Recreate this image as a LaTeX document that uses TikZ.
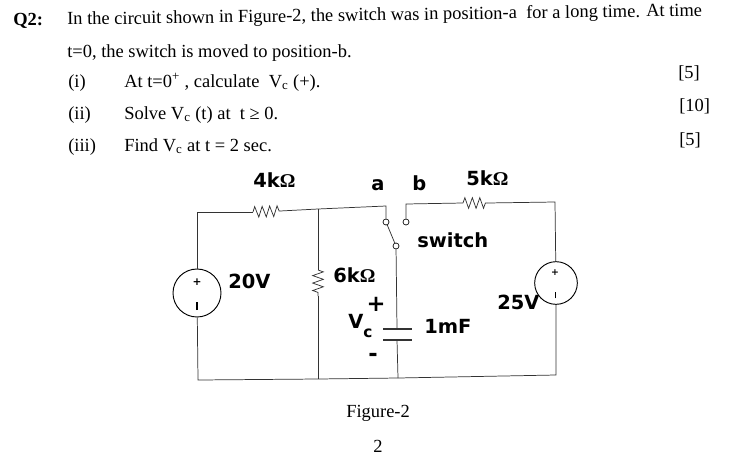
\documentclass[tikz,border=0pt]{standalone}
\usepackage{fontspec}
\setmainfont{Liberation Serif}
\newfontfamily\labelfont[BoldFont=DejaVu Sans Bold]{DejaVu Sans}
\usetikzlibrary{positioning, decorations.pathmorphing}
\tikzset{
    wire/.style={draw=black!80, line width=0.55pt},
    resistor/.style={wire, decorate, decoration={zigzag, segment length=5.6, amplitude=4}},
    terminal/.style={circle, draw, fill=white, line width=0.5pt, inner sep=0pt, minimum size=4.5pt},
    source/.style={circle, draw, line width=0.7pt, inner sep=0pt, minimum size=#1},
    question/.style={anchor=base west, inner sep=0pt, font=\fontsize{13.85pt}{16pt}\selectfont},
    value/.style={anchor=base west, inner sep=0pt, font=\labelfont\bfseries\fontsize{14.6pt}{16pt}\selectfont},
    sign/.style={inner sep=0pt, font=\labelfont\bfseries\fontsize{#1}{10pt}\selectfont}
}
\newcommand{\capv}{V\raisebox{-7pt}{\fontsize{11.5pt}{12pt}\selectfont c}}
\newcommand{\ohm}{{\rmfamily\bfseries Ω}}
\begin{document}
\begin{tikzpicture}[x=0.75pt, y=-0.75pt]
    \useasboundingbox[fill=white] (0,0) rectangle (755,467);

    % question text
    \node[question, font=\bfseries\fontsize{13.85pt}{16pt}\selectfont] (q) at (13,26) {Q2:};
    \node[question, rotate=0.8] (line1) at (67,25) {In the circuit shown in Figure-2, the switch was in position-a\ \ for a long time. At time};
    \node[question] (line2) at (67,57) {t=0, the switch is moved to position-b.};
    \node[question] (num1) at (68,87) {(i)};
    \node[question] (part1) at (124,87) {At t=0\textsuperscript{+} , calculate\ \ V\textsubscript{c} (+).};
    \node[question] (num2) at (68,119) {(ii)};
    \node[question] (part2) at (124,119) {Solve V\textsubscript{c} (t) at\ \ t ≥ 0.};
    \node[question] (num3) at (68,151) {(iii)};
    \node[question] (part3) at (124,151) {Find V\textsubscript{c} at t = 2 sec.};
    \node[question] (mark1) at (678,79) {[5]};
    \node[question] (mark2) at (679,111) {[10]};
    \node[question] (mark3) at (679,145) {[5]};

    % circuit
    \node[source=36pt] (src20) at (197,293) {};
    \node[sign=8pt] (plus20) at (197,282) {+};
    \node[sign=8pt] (minus20) at (197,306) {\rule{0.8pt}{6pt}};
    \node[source=32pt] (src25) at (556,283) {};
    \node[sign=7pt] (plus25) at (555,273) {+};
    \node[sign=7pt] (minus25) at (555,295) {\rule{0.7pt}{5pt}};
    \node[terminal] (terma) at (386,222) {};
    \node[terminal] (termb) at (406,222) {};
    \node[terminal] (pole) at (396,246) {};

    \coordinate (tl) at (197,212);
    \coordinate (r4a) at (253,212);
    \coordinate (r4b) at (280,211);
    \coordinate (top6k) at (318,209);
    \coordinate (r6a) at (318,270);
    \coordinate (r6b) at (318,296);
    \coordinate (bot6k) at (318,379);
    \coordinate (topa) at (386,206);
    \coordinate (topb) at (406,204);
    \coordinate (r5a) at (463,203);
    \coordinate (r5b) at (487,203);
    \coordinate (tr) at (555,202);
    \coordinate (br) at (556,375);
    \coordinate (bl) at (198,380);
    \coordinate (capa) at (397,329);
    \coordinate (capb) at (397,340);
    \coordinate (botc) at (398,378);
    \coordinate (capal) at (383,329);
    \coordinate (capar) at (412,329);
    \coordinate (capbl) at (383,340);
    \coordinate (capbr) at (412,340);

    \draw[wire] (src20) -- (tl) -- (r4a);
    \draw[resistor] (r4a) -- (r4b);
    \draw[wire] (r4b) -- (top6k) -- (topa) -- (terma);
    \draw[wire] (top6k) -- (r6a);
    \draw[resistor] (r6a) -- (r6b);
    \draw[wire] (r6b) -- (bot6k);
    \draw[wire] (terma) -- (pole);
    \draw[wire] (pole) -- (capa);
    \draw[wire, line width=0.8pt] (capal) -- (capar);
    \draw[wire, line width=0.8pt] (capbl) -- (capbr);
    \draw[wire] (capb) -- (botc);
    \draw[wire] (termb) -- (topb) -- (r5a);
    \draw[resistor] (r5a) -- (r5b);
    \draw[wire] (r5b) -- (tr) -- (src25);
    \draw[wire] (src25) -- (br) -- (botc) -- (bot6k) -- (bl) -- (src20);

    % labels
    \node[value] (lab4k) at (253,187) {4k\ohm};
    \node[value] (laba) at (371,190) {a};
    \node[value] (labb) at (412,190) {b};
    \node[value] (lab5k) at (466,185) {5k\ohm};
    \node[value] (labsw) at (417,247) {switch};
    \node[value] (lab20) at (228,288) {20V};
    \node[value] (lab6k) at (333,282) {6k\ohm};
    \node[value] (lab25) at (497,309) {25V};
    \node[value] (labcap) at (424,333) {1mF};
    \node[value] (labv) at (348,328) {\capv};
    \node[sign=17pt] (labplus) at (376,304) {+};
    \node[sign=17pt] (labminus) at (373,357) {-};

    % caption
    \node[question] (caption) at (346,417) {Figure-2};
    \node[question] (page) at (373,452) {2};
\end{tikzpicture}
\end{document}
